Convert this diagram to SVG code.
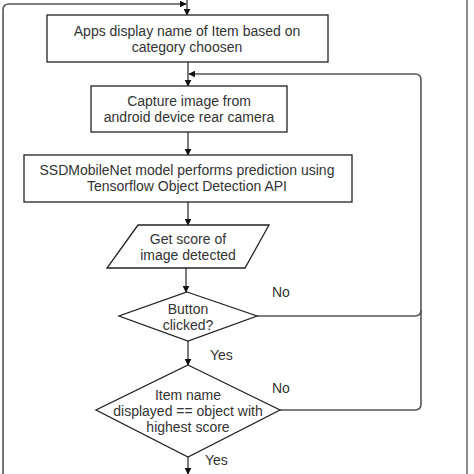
<svg xmlns="http://www.w3.org/2000/svg" width="474" height="474" viewBox="0 0 474 474">
<style>
.box{fill:#fff;stroke:#222;stroke-width:1.3}
.ln{fill:none;stroke:#333;stroke-width:1.3}
.lp{fill:none;stroke:#555;stroke-width:1.6}
text{font-family:"Liberation Sans",Arial,sans-serif;font-size:14px;fill:#333;text-anchor:middle}
.lbl{text-anchor:start}
</style>
<defs>
<marker id="ah" viewBox="0 0 10 10" refX="9" refY="5" markerWidth="7" markerHeight="7" orient="auto" markerUnits="userSpaceOnUse">
<path d="M0,0 L10,5 L0,10 z" fill="#111"/>
</marker>
</defs>
<rect width="474" height="474" fill="#fff"/>
<g id="connectors">
<line class="ln" x1="187" y1="0" x2="187" y2="15" marker-end="url(#ah)"/>
<path class="lp" d="M3,474 L3,10 Q3,4 9,4 L186,4" marker-end="url(#ah)"/>
<line class="ln" x1="188" y1="62" x2="188" y2="86" marker-end="url(#ah)"/>
<path class="lp" d="M421,316 L421,80 Q421,74 415,74 L189,74" marker-end="url(#ah)"/>
<line class="ln" x1="188" y1="132" x2="188" y2="155" marker-end="url(#ah)"/>
<line class="ln" x1="188" y1="202" x2="188" y2="225" marker-end="url(#ah)"/>
<line class="ln" x1="186" y1="268" x2="186" y2="292" marker-end="url(#ah)"/>
<path class="lp" d="M257,316 L415,316 Q421,316 421,310"/>
<line class="ln" x1="188" y1="341" x2="188" y2="365" marker-end="url(#ah)"/>
<path class="lp" d="M280,410 L415,410 Q421,410 421,404 L421,316"/>
<line class="ln" x1="188" y1="457" x2="188" y2="474" marker-end="url(#ah)"/>
<line x1="467" y1="0" x2="467" y2="474" stroke="#666" stroke-width="1.5"/>
<text class="lbl" x="272" y="297">No</text>
<text class="lbl" x="210" y="360">Yes</text>
<text class="lbl" x="272" y="393">No</text>
<text class="lbl" x="205" y="465">Yes</text>
</g>
<g id="n1">
<rect class="box" x="47" y="15" width="281" height="47"/>
<text x="187" y="36">Apps display name of Item based on</text>
<text x="187" y="52">category choosen</text>
</g>
<g id="n2">
<rect class="box" x="91" y="86" width="196" height="46"/>
<text x="189" y="106">Capture image from</text>
<text x="189" y="122">android device rear camera</text>
</g>
<g id="n3">
<rect class="box" x="24" y="155" width="328" height="47"/>
<text x="187" y="175">SSDMobileNet model performs prediction using</text>
<text x="187" y="191">Tensorflow Object Detection API</text>
</g>
<g id="n4">
<polygon class="box" points="138,225 269,225 245,268 107,268"/>
<text x="188" y="244">Get score of</text>
<text x="188" y="260">image detected</text>
</g>
<g id="n5">
<polygon class="box" points="187,292 257,316 188,341 119,316"/>
<text x="188" y="314">Button</text>
<text x="188" y="330">clicked?</text>
</g>
<g id="n6">
<polygon class="box" points="188,365 280,410 188,457 96,410"/>
<text x="188" y="400">Item name</text>
<text x="188" y="416">displayed == object with</text>
<text x="188" y="432">highest score</text>
</g>
</svg>
